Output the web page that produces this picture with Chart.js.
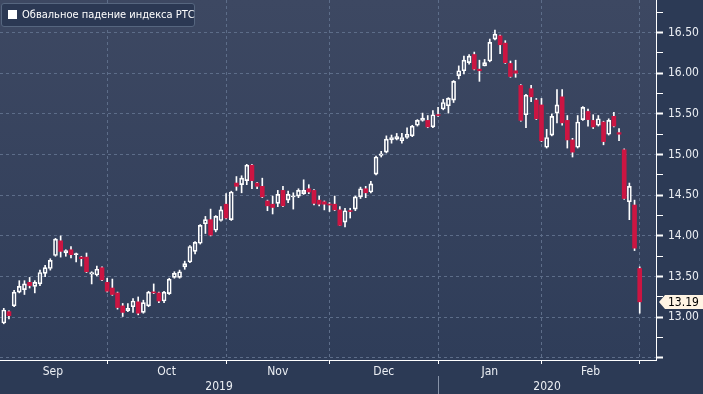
<!DOCTYPE html>
<html>
<head>
<meta charset="utf-8">
<script src="https://cdn.jsdelivr.net/npm/chart.js@4.4.1/dist/chart.umd.min.js"></script>
<style>
  html, body { margin: 0; padding: 0; background: #2c3a55; overflow: hidden; }
  #wrap { position: relative; width: 703px; height: 394px; }
  #legend {
    position: absolute; left: 1px; top: 3px; height: 24px; width: 194px;
    box-sizing: border-box; padding-left: 6px;
    background: #2b3853; border: 1px solid #56667f; border-radius: 3px;
    color: #fff; font: 11px 'DejaVu Sans Condensed', 'Liberation Sans Narrow', sans-serif;
    line-height: 22px; white-space: nowrap;
  }
  #legend span { display: inline-block; width: 9px; height: 9px; background: #fff; margin-right: 5px; vertical-align: -1px; }
</style>
</head>
<body>
<div id="wrap">
  <canvas id="chart" width="703" height="394"></canvas>
  <div id="legend"><span></span>Обвальное падение индекса РТС</div>
</div>
<script>
// daily candles, Sep 2019 - early Mar 2020
const opens = [12.93,13.07,13.14,13.31,13.34,13.43,13.38,13.41,13.54,13.60,
  13.76,13.94,13.79,13.83,13.77,13.74,13.74,13.53,13.52,13.61,
  13.43,13.36,13.30,13.14,13.08,13.13,13.19,13.06,13.14,13.31,
  13.30,13.20,13.29,13.49,13.49,13.62,13.68,13.81,13.91,14.15,
  14.20,14.07,14.19,14.39,14.20,14.65,14.63,14.68,14.87,14.65,
  14.61,14.43,14.39,14.40,14.56,14.44,14.48,14.49,14.52,14.58,
  14.56,14.44,14.42,14.39,14.39,14.32,14.17,14.31,14.33,14.48,
  14.58,14.54,14.76,14.99,15.03,15.18,15.19,15.17,15.21,15.23,
  15.36,15.42,15.42,15.34,15.49,15.56,15.60,15.67,15.97,16.03,
  16.13,16.23,16.05,16.09,16.15,16.42,16.46,16.37,16.12,16.03,
  15.85,15.49,15.81,15.67,15.61,15.09,15.24,15.51,15.71,15.42,
  15.18,15.09,15.43,15.53,15.42,15.36,15.40,15.25,15.47,15.27,
  15.06,14.42,14.38,13.60];
const highs = [13.11,13.08,13.33,13.45,13.45,13.49,13.45,13.58,13.64,13.72,
  13.97,14.00,13.83,13.87,13.79,13.75,13.79,13.56,13.63,13.62,
  13.48,13.47,13.31,13.17,13.17,13.23,13.25,13.21,13.32,13.41,
  13.31,13.32,13.48,13.56,13.58,13.69,13.88,13.93,14.14,14.24,
  14.33,14.25,14.36,14.52,14.55,14.73,14.74,14.88,14.88,14.66,
  14.71,14.44,14.49,14.56,14.61,14.55,14.53,14.58,14.69,14.63,
  14.57,14.49,14.43,14.41,14.49,14.36,14.34,14.34,14.49,14.60,
  14.61,14.67,14.98,15.04,15.23,15.24,15.26,15.26,15.33,15.36,
  15.43,15.51,15.48,15.54,15.58,15.68,15.70,15.91,16.09,16.21,
  16.23,16.26,16.16,16.17,16.42,16.53,16.47,16.40,16.15,16.16,
  15.86,15.74,15.85,15.69,15.69,15.31,15.50,15.80,15.80,15.48,
  15.20,15.48,15.59,15.56,15.49,15.48,15.41,15.44,15.52,15.32,
  15.07,14.65,14.44,13.62];
const lows = [12.92,12.98,13.13,13.30,13.28,13.36,13.30,13.39,13.50,13.58,
  13.75,13.74,13.75,13.73,13.68,13.63,13.55,13.41,13.51,13.45,
  13.31,13.27,13.10,13.01,13.07,13.06,13.03,13.05,13.13,13.29,
  13.18,13.18,13.28,13.48,13.48,13.59,13.67,13.78,13.90,14.03,
  14.00,14.05,14.18,14.21,14.19,14.56,14.53,14.63,14.58,14.58,
  14.47,14.31,14.27,14.36,14.36,14.41,14.33,14.47,14.51,14.52,
  14.38,14.37,14.32,14.30,14.31,14.13,14.11,14.22,14.31,14.46,
  14.47,14.53,14.75,14.97,15.02,15.14,15.18,15.14,15.20,15.22,
  15.35,15.41,15.33,15.33,15.47,15.55,15.51,15.64,15.93,15.99,
  16.11,16.04,15.90,16.09,16.14,16.41,16.24,16.12,15.95,15.95,
  15.41,15.33,15.65,15.43,15.16,15.08,15.23,15.39,15.36,15.08,
  14.97,15.08,15.42,15.35,15.32,15.35,15.12,15.24,15.34,15.17,
  14.45,14.20,13.82,13.05];
const closes = [13.09,13.02,13.31,13.38,13.41,13.39,13.43,13.55,13.61,13.70,
  13.96,13.81,13.82,13.77,13.78,13.72,13.56,13.55,13.59,13.46,
  13.32,13.28,13.12,13.06,13.11,13.20,13.05,13.18,13.31,13.30,
  13.20,13.31,13.47,13.54,13.56,13.66,13.87,13.92,14.13,14.20,
  14.01,14.24,14.32,14.22,14.54,14.61,14.71,14.87,14.68,14.61,
  14.48,14.37,14.35,14.51,14.37,14.51,14.49,14.56,14.56,14.54,
  14.40,14.39,14.39,14.38,14.32,14.13,14.31,14.30,14.48,14.58,
  14.53,14.64,14.97,15.01,15.19,15.21,15.22,15.21,15.25,15.35,
  15.42,15.45,15.34,15.49,15.48,15.64,15.69,15.90,16.03,16.16,
  16.21,16.05,16.03,16.13,16.38,16.48,16.35,16.13,15.96,16.00,
  15.42,15.73,15.71,15.44,15.17,15.21,15.47,15.61,15.39,15.18,
  15.03,15.40,15.58,15.43,15.34,15.44,15.16,15.42,15.35,15.25,
  14.46,14.61,13.85,13.19];

// x axis: candle index where each month starts, and labels
const monthLabels = ["Sep", "Oct", "Nov", "Dec", "Jan", "Feb"];
const monthStarts = [-1, 20, 43, 63, 84, 104, 123];
const yearLabels = ["2019", "2020"];
const yearStart = 84;
// right axis ticks
const priceTicks = [12.5, 12.75, 13, 13.25, 13.5, 13.75, 14, 14.25, 14.5, 14.75,
  15, 15.25, 15.5, 15.75, 16, 16.25, 16.5, 16.75];

const RED = "#cc1542";
const GRID = "#5d6d89";
const TXT = "#eceff4";
const X_MIN = -0.73, X_MAX = 126.15;

Chart.defaults.font.family = "'DejaVu Sans Condensed', 'Liberation Sans Narrow', 'DejaVu Sans', sans-serif";
Chart.defaults.font.size = 12;

const isUp = (i) => closes[i] >= opens[i];
const isMajor = (v) => Math.abs(v * 2 - Math.round(v * 2)) < 1e-6;

var bodies = [], upWicks = [], lowWicks = [];
for (var i = 0; i < opens.length; i++) {
  bodies.push({ x: i, y: [opens[i], closes[i]] });
  upWicks.push({ x: i, y: [Math.max(opens[i], closes[i]), highs[i]] });
  lowWicks.push({ x: i, y: [lows[i], Math.min(opens[i], closes[i])] });
}

const bg = {
  id: "bg",
  beforeDraw(chart) {
    const { ctx, chartArea: a } = chart;
    ctx.save();
    ctx.fillStyle = "#2c3a55";
    ctx.fillRect(0, 0, chart.width, chart.height);
    const g = ctx.createLinearGradient(0, a.top, 0, a.bottom);
    g.addColorStop(0, "#3d4862");
    g.addColorStop(1, "#2f3d59");
    ctx.fillStyle = g;
    ctx.fillRect(a.left, a.top, a.right - a.left, a.bottom - a.top);
    ctx.restore();
  },
};

// last price tag + year separator
const extras = {
  id: "extras",
  afterDraw(chart) {
    const ctx = chart.ctx;
    const ys = chart.scales.y, xs = chart.scales.x, yr = chart.scales.xy;
    const last = closes[closes.length - 1];
    const y = Math.round(ys.getPixelForValue(last));
    const x0 = ys.left + 3;
    ctx.save();
    ctx.beginPath();
    ctx.moveTo(x0, y);
    ctx.lineTo(x0 + 6, y - 7);
    ctx.lineTo(chart.width, y - 7);
    ctx.lineTo(chart.width, y + 7);
    ctx.lineTo(x0 + 6, y + 7);
    ctx.closePath();
    ctx.fillStyle = "#fff4e4";
    ctx.fill();
    ctx.fillStyle = "#000";
    ctx.font = "12px " + Chart.defaults.font.family;
    ctx.textBaseline = "middle";
    ctx.fillText(last.toFixed(2), x0 + 9, y + 1);

    const sx = Math.round(xs.getPixelForValue(yearStart)) + 0.5;
    ctx.strokeStyle = "#8793a8";
    ctx.lineWidth = 1;
    ctx.beginPath();
    ctx.moveTo(sx, yr.top - 4);
    ctx.lineTo(sx, chart.height);
    ctx.stroke();
    ctx.restore();
  },
};

const ctx = document.getElementById("chart").getContext("2d");
const myChart = new Chart(ctx, {
  type: "bar",
  data: {
    datasets: [
      {
        data: bodies,
        backgroundColor: (c) => (isUp(c.dataIndex) ? "rgba(0,0,0,0)" : RED),
        borderColor: (c) => (isUp(c.dataIndex) ? "#ffffff" : RED),
        borderWidth: (c) => (isUp(c.dataIndex) ? 1 : 0),
        borderSkipped: false,
        barThickness: 4,
        minBarLength: 1,
        grouped: false,
      },
      { data: upWicks, backgroundColor: "#ffffff", borderWidth: 0, barThickness: 1, grouped: false },
      { data: lowWicks, backgroundColor: "#ffffff", borderWidth: 0, barThickness: 1, grouped: false },
    ],
  },
  options: {
    responsive: false,
    animation: false,
    devicePixelRatio: 1,
    layout: { padding: 0 },
    plugins: { legend: { display: false }, tooltip: { enabled: false } },
    scales: {
      x: {
        type: "linear", position: "bottom", min: X_MIN, max: X_MAX, weight: 0, offset: false,
        afterBuildTicks: (s) => { s.ticks = monthStarts.slice(1).map((v) => ({ value: v })); },
        afterFit: (s) => { s.height = 4; s.paddingLeft = 0; s.paddingRight = 0; },
        grid: { offset: false, color: GRID, tickColor: "#ffffff", tickLength: 4, lineWidth: 1 },
        border: { color: "#ffffff", width: 1, dash: [3, 3] },
        ticks: { display: false },
      },
      xm: {
        type: "linear", position: "bottom", min: X_MIN, max: X_MAX, weight: 1, offset: false,
        afterBuildTicks: (s) => {
          s.ticks = monthLabels.map((m, i) => ({ value: (monthStarts[i] + monthStarts[i + 1]) / 2 }));
        },
        afterFit: (s) => { s.height = 16; s.paddingLeft = 0; s.paddingRight = 0; },
        grid: { display: false, drawTicks: false, offset: false },
        border: { display: false },
        ticks: { color: TXT, padding: 1, maxRotation: 0, autoSkip: false, callback: (v, i) => monthLabels[i] },
      },
      xy: {
        type: "linear", position: "bottom", min: X_MIN, max: X_MAX, weight: 2, offset: false,
        afterBuildTicks: (s) => {
          s.ticks = [{ value: (X_MIN + yearStart) / 2 }, { value: (yearStart + X_MAX) / 2 }];
        },
        afterFit: (s) => { s.height = 14; s.paddingLeft = 0; s.paddingRight = 0; },
        grid: { display: false, drawTicks: false, offset: false },
        border: { display: false },
        ticks: { color: TXT, padding: 0, maxRotation: 0, autoSkip: false, callback: (v, i) => yearLabels[i] },
      },
      y: {
        type: "linear", position: "right", min: 12.475, max: 16.9,
        afterBuildTicks: (s) => { s.ticks = priceTicks.map((v) => ({ value: v })); },
        afterFit: (s) => { s.width = 47; s.paddingTop = 0; s.paddingBottom = 0; },
        grid: {
          color: (c) => (c.tick && isMajor(c.tick.value) ? GRID : "rgba(0,0,0,0)"),
          tickColor: "#ffffff",
          tickLength: 7,
          tickWidth: (c) => (c.tick && isMajor(c.tick.value) ? 2 : 1),
        },
        border: { color: "#ffffff", width: 1, dash: [3, 3] },
        ticks: {
          color: TXT, padding: 5, autoSkip: false,
          callback: (v) => (isMajor(v) && v >= 13 && v <= 16.5 ? v.toFixed(2) : ""),
        },
      },
    },
  },
  plugins: [bg, extras],
});
</script>
</body>
</html>
